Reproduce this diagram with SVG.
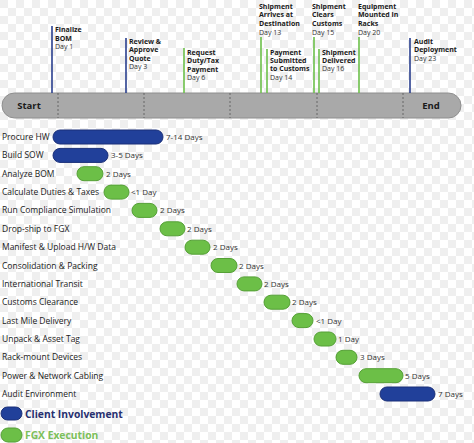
<svg xmlns="http://www.w3.org/2000/svg" width="474" height="443" viewBox="0 0 474 443">
<defs>
<pattern id="chk" width="16" height="16" patternUnits="userSpaceOnUse">
<rect width="16" height="16" fill="#ffffff"/>
<rect width="8" height="8" fill="#efefef"/>
<rect x="8" y="8" width="8" height="8" fill="#efefef"/>
</pattern>
</defs>
<style>
.t{font-family:"Open Sans","Noto Sans","Liberation Sans",sans-serif;fill:#1a1a1a}
.mt{font-size:7px;font-weight:bold}
.md{font-size:7px;fill:#333}
.lbl{font-size:8.5px}
.dur{font-size:8px;fill:#333}
.se{font-size:9.5px;font-weight:bold}
.blue{fill:#21409a;stroke:#1a2f78;stroke-width:1}
.green{fill:#6cbf47;stroke:#55a036;stroke-width:1}
.bl{stroke:#2a3f8f;stroke-width:1.6}
.gl{stroke:#6cc04a;stroke-width:1.6}
.dash{stroke:#555;stroke-width:0.8;stroke-dasharray:2 2}
</style>
<rect width="474" height="443" fill="url(#chk)"/>

<g id="timeline">
<rect x="2" y="93" width="459" height="25" rx="12.5" fill="#a9a9a9" stroke="#8e8e8e" stroke-width="1"/>
<text class="t se" x="29" y="108.5" text-anchor="middle">Start</text>
<text class="t se" x="431" y="108.5" text-anchor="middle">End</text>
</g>

<g id="connectors">
<line class="dash" x1="58" y1="93" x2="58" y2="118"/>
<line class="dash" x1="144" y1="93" x2="144" y2="118"/>
<line class="dash" x1="230" y1="93" x2="230" y2="118"/>
<line class="dash" x1="317" y1="93" x2="317" y2="118"/>
<line class="dash" x1="403" y1="93" x2="403" y2="118"/>
<line class="bl" x1="52" y1="26" x2="52" y2="93"/>
<line class="bl" x1="126" y1="38" x2="126" y2="93"/>
<line class="gl" x1="184" y1="48" x2="184" y2="93"/>
<line class="gl" x1="261" y1="37" x2="261" y2="93"/>
<line class="gl" x1="267" y1="49" x2="267" y2="93"/>
<line class="gl" x1="314" y1="37" x2="314" y2="93"/>
<line class="gl" x1="319" y1="49" x2="319" y2="93"/>
<line class="gl" x1="359" y1="37" x2="359" y2="93"/>
<line class="bl" x1="410" y1="38" x2="410" y2="93"/>
</g>

<g id="m-finalize-bom"><text class="t mt" x="55" y="31.5">Finalize</text><text class="t mt" x="55" y="40.5">BOM</text><text class="t md" x="55" y="49">Day 1</text></g>
<g id="m-review-quote"><text class="t mt" x="129" y="43.5">Review &amp;</text><text class="t mt" x="129" y="52">Approve</text><text class="t mt" x="129" y="60.5">Quote</text><text class="t md" x="129" y="69">Day 3</text></g>
<g id="m-request-duty"><text class="t mt" x="187" y="54.5">Request</text><text class="t mt" x="187" y="63">Duty/Tax</text><text class="t mt" x="187" y="71.5">Payment</text><text class="t md" x="187" y="80">Day 6</text></g>
<g id="m-arrives"><text class="t mt" x="259" y="8.5">Shipment</text><text class="t mt" x="259" y="17">Arrives at</text><text class="t mt" x="259" y="25.5">Destination</text><text class="t md" x="259" y="34.5">Day 13</text></g>
<g id="m-payment"><text class="t mt" x="270" y="54.5">Payment</text><text class="t mt" x="270" y="63">Submitted</text><text class="t mt" x="270" y="71">to Customs</text><text class="t md" x="270" y="79.5">Day 14</text></g>
<g id="m-clears"><text class="t mt" x="312" y="8.5">Shipment</text><text class="t mt" x="312" y="17">Clears</text><text class="t mt" x="312" y="25.5">Customs</text><text class="t md" x="312" y="34.5">Day 15</text></g>
<g id="m-delivered"><text class="t mt" x="322" y="54.5">Shipment</text><text class="t mt" x="322" y="63">Delivered</text><text class="t md" x="322" y="71">Day 16</text></g>
<g id="m-mounted"><text class="t mt" x="358" y="8.5">Equipment</text><text class="t mt" x="358" y="17">Mounted in</text><text class="t mt" x="358" y="25.5">Racks</text><text class="t md" x="358" y="34.5">Day 20</text></g>
<g id="m-audit"><text class="t mt" x="414" y="43.5">Audit</text><text class="t mt" x="414" y="52">Deployment</text><text class="t md" x="414" y="60.5">Day 23</text></g>

<g id="r0"><text class="t lbl" x="2" y="140">Procure HW</text><rect class="blue" x="53" y="130" width="110" height="14" rx="7"/><text class="t dur" x="166" y="140">7-14 Days</text></g>
<g id="r1"><text class="t lbl" x="2" y="158.4">Build SOW</text><rect class="blue" x="53" y="148.4" width="55" height="14" rx="7"/><text class="t dur" x="111" y="158.4">3-5 Days</text></g>
<g id="r2"><text class="t lbl" x="2" y="176.7">Analyze BOM</text><rect class="green" x="77" y="166.7" width="26" height="14" rx="7"/><text class="t dur" x="106" y="176.7">2 Days</text></g>
<g id="r3"><text class="t lbl" x="2" y="195.1">Calculate Duties &amp; Taxes</text><rect class="green" x="104" y="185.1" width="25" height="14" rx="7"/><text class="t dur" x="131" y="195.1">&lt;1 Day</text></g>
<g id="r4"><text class="t lbl" x="2" y="213.4">Run Compliance Simulation</text><rect class="green" x="132" y="203.4" width="25" height="14" rx="7"/><text class="t dur" x="160" y="213.4">2 Days</text></g>
<g id="r5"><text class="t lbl" x="2" y="231.8">Drop-ship to FGX</text><rect class="green" x="160" y="221.8" width="25" height="14" rx="7"/><text class="t dur" x="187" y="231.8">2 Days</text></g>
<g id="r6"><text class="t lbl" x="2" y="250.2">Manifest &amp; Upload H/W Data</text><rect class="green" x="185" y="240.2" width="25" height="14" rx="7"/><text class="t dur" x="213" y="250.2">2 Days</text></g>
<g id="r7"><text class="t lbl" x="2" y="268.5">Consolidation &amp; Packing</text><rect class="green" x="211" y="258.5" width="26" height="14" rx="7"/><text class="t dur" x="239" y="268.5">2 Days</text></g>
<g id="r8"><text class="t lbl" x="2" y="286.9">International Transit</text><rect class="green" x="237" y="276.9" width="25" height="14" rx="7"/><text class="t dur" x="264" y="286.9">2 Days</text></g>
<g id="r9"><text class="t lbl" x="2" y="305.2">Customs Clearance</text><rect class="green" x="264" y="295.2" width="26" height="14" rx="7"/><text class="t dur" x="292" y="305.2">2 Days</text></g>
<g id="r10"><text class="t lbl" x="2" y="323.6">Last Mile Delivery</text><rect class="green" x="292" y="313.6" width="21" height="14" rx="7"/><text class="t dur" x="316" y="323.6">&lt;1 Day</text></g>
<g id="r11"><text class="t lbl" x="2" y="342">Unpack &amp; Asset Tag</text><rect class="green" x="314" y="332" width="22" height="14" rx="7"/><text class="t dur" x="338" y="342">1 Day</text></g>
<g id="r12"><text class="t lbl" x="2" y="360.3">Rack-mount Devices</text><rect class="green" x="336" y="350.3" width="21" height="14" rx="7"/><text class="t dur" x="360" y="360.3">3 Days</text></g>
<g id="r13"><text class="t lbl" x="2" y="378.7">Power &amp; Network Cabling</text><rect class="green" x="359" y="368.7" width="44" height="14" rx="7"/><text class="t dur" x="405" y="378.7">5 Days</text></g>
<g id="r14"><text class="t lbl" x="2" y="397">Audit Environment</text><rect class="blue" x="380" y="387" width="55" height="14" rx="7"/><text class="t dur" x="438" y="397">7 Days</text></g>

<g id="legend-client"><rect class="blue" x="1" y="407" width="21" height="13" rx="6.5"/><text class="t" x="25" y="417.5" style="font-size:10.3px;font-weight:bold;fill:#27306f">Client Involvement</text></g>
<g id="legend-fgx"><rect class="green" x="1" y="428" width="21" height="14" rx="7"/><text class="t" x="25" y="438.5" style="font-size:10.3px;font-weight:bold;fill:#7cc05a">FGX Execution</text></g>
</svg>
